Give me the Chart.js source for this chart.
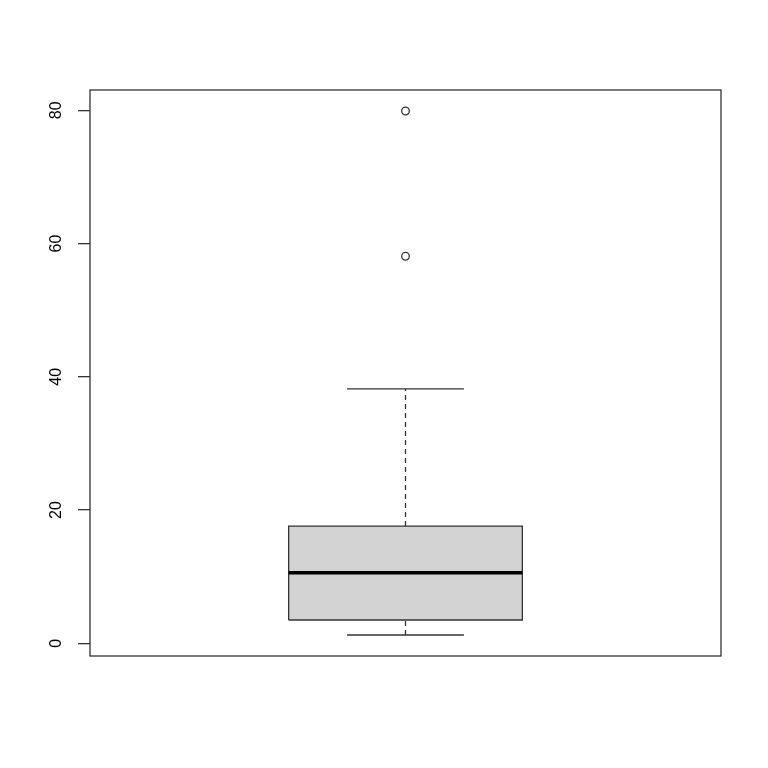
<!DOCTYPE html>
<html>
<head>
<meta charset="utf-8">
<script src="https://cdn.jsdelivr.net/npm/chart.js@4"></script>
<style>
  html, body { margin: 0; padding: 0; background: #fff; }
  canvas { display: block; }
</style>
</head>
<body>
<canvas id="graph" width="768" height="768" style="width:768px;height:768px"></canvas>
<script>
// box statistics (one group)
const groupPos = [1];
const lowWhisker = [1.25];
const lowerQuartile = [3.5];
const medianVal = [10.6];
const upperQuartile = [17.6];
const highWhisker = [38.2];
const outlierVals = [58.1, 79.9];
const yTicks = [0, 20, 40, 60, 80];

const ink = "#333333";
const halfBox = 0.2, halfCap = 0.1;
const cx = groupPos[0];

function seg(x1, y1, x2, y2) {
    return [{ x: x1, y: y1 }, { x: x2, y: y2 }];
}

// R-like frame and rotated tick labels
const rFrame = {
    id: "rFrame",
    afterDraw(chart) {
        const c = chart.ctx, a = chart.chartArea, ys = chart.scales.y;
        c.save();
        c.strokeStyle = ink;
        c.lineWidth = 1.3;
        c.strokeRect(a.left, a.top, a.right - a.left, a.bottom - a.top);
        c.fillStyle = "#000";
        c.font = "16px 'Liberation Sans', Arial, sans-serif";
        c.textAlign = "center";
        c.textBaseline = "middle";
        yTicks.forEach(v => {
            c.save();
            c.translate(57, ys.getPixelForValue(v));
            c.rotate(-Math.PI / 2);
            c.fillText(String(v), 0, 0);
            c.restore();
        });
        c.restore();
    }
};

const line = (data, extra) => Object.assign({
    data: data,
    showLine: true,
    pointRadius: 0,
    borderColor: ink,
    borderWidth: 1.3,
    fill: false,
    order: 2
}, extra || {});

const ctx = document.getElementById("graph").getContext("2d");

new Chart(ctx, {
    type: "scatter",
    data: {
        datasets: [
            // box fill: lower edge, then upper edge filled down to it
            line(seg(cx - halfBox, lowerQuartile[0], cx + halfBox, lowerQuartile[0]), { borderWidth: 0, order: 10 }),
            line(seg(cx - halfBox, upperQuartile[0], cx + halfBox, upperQuartile[0]), {
                borderWidth: 0, fill: "-1", backgroundColor: "#d3d3d3", order: 10
            }),
            // box outline
            line([
                { x: cx - halfBox, y: lowerQuartile[0] },
                { x: cx + halfBox, y: lowerQuartile[0] },
                { x: cx + halfBox, y: upperQuartile[0] },
                { x: cx - halfBox, y: upperQuartile[0] },
                { x: cx - halfBox, y: lowerQuartile[0] }
            ]),
            // median
            line(seg(cx - halfBox, medianVal[0], cx + halfBox, medianVal[0]), { borderColor: "#000", borderWidth: 3.5, order: 1 }),
            // whiskers
            line(seg(cx, upperQuartile[0], cx, highWhisker[0]), { borderDash: [5, 4] }),
            line(seg(cx, lowWhisker[0], cx, lowerQuartile[0]), { borderDash: [5, 4] }),
            line(seg(cx - halfCap, highWhisker[0], cx + halfCap, highWhisker[0])),
            line(seg(cx - halfCap, lowWhisker[0], cx + halfCap, lowWhisker[0])),
            // outliers
            {
                data: outlierVals.map(v => ({ x: cx, y: v })),
                showLine: false,
                pointRadius: 3.8,
                pointBorderWidth: 1.3,
                pointBorderColor: ink,
                pointBackgroundColor: "rgba(0,0,0,0)",
                order: 1
            }
        ]
    },
    options: {
        responsive: false,
        animation: false,
        devicePixelRatio: 1,
        layout: { padding: { left: 0, top: 90, right: 47, bottom: 112 } },
        plugins: {
            legend: { display: false },
            tooltip: { enabled: false },
            filler: { drawTime: "beforeDatasetsDraw" }
        },
        scales: {
            x: {
                type: "linear",
                display: false,
                min: 0.46,
                max: 1.54
            },
            y: {
                type: "linear",
                min: -1.9,
                max: 83.05,
                afterBuildTicks(scale) {
                    scale.ticks = yTicks.map(v => ({ value: v }));
                },
                afterFit(scale) {
                    scale.width = 90;
                },
                border: { display: false },
                grid: {
                    drawOnChartArea: false,
                    drawTicks: true,
                    tickLength: 12,
                    color: ink,
                    lineWidth: 1.3
                },
                ticks: { display: false }
            }
        }
    },
    plugins: [rFrame]
});
</script>
</body>
</html>
